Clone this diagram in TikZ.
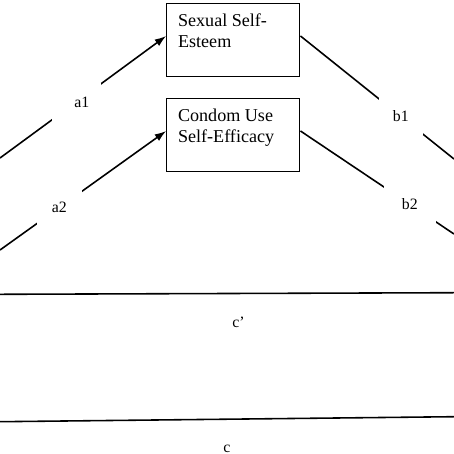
\documentclass[tikz,border=0pt]{standalone}
\usepackage{fontspec}
\setmainfont{Liberation Serif}
\usetikzlibrary{arrows.meta,positioning}

\begin{document}
\begin{tikzpicture}[x=0.02cm,y=-0.02cm,>={Latex[length=6.5pt,width=4.5pt]},
  every node/.style={inner sep=0pt},
  box/.style={draw,line width=0.6pt,minimum width=2.667cm,minimum height=1.45cm},
  boxtext/.style={align=left,font=\fontsize{10.3}{12.3}\selectfont},
  link/.style={line width=0.9pt},
  coef/.style={fill=white,minimum height=0.76cm,font=\fontsize{9}{10}\selectfont}]

\useasboundingbox (0,0) rectangle (454,454);

% mediators
\node[box] (SSE) at (233.3,40) {};
\node[box] (CUSE) at (233.3,135) {};
\node[boxtext,anchor=north west] (SSEtext) at ([xshift=0.232cm,yshift=-0.152cm]SSE.north west) {\strut Sexual Self-\\Esteem};
\node[boxtext,anchor=north west] (CUSEtext) at ([xshift=0.232cm,yshift=-0.152cm]CUSE.north west) {\strut Condom Use\\Self-Efficacy};

% free ends at the edges of the view
\coordinate (a1s) at (0,158);
\coordinate (a2s) at (0,250);
\coordinate (b1e) at (454,159);
\coordinate (b2e) at (454,234);
\coordinate (cpL) at (0,294.3);
\coordinate (cpR) at (454,292.7);
\coordinate (cL) at (0,421.7);
\coordinate (cR) at (454,416.7);

\draw[link,->] (a1s) -- node[coef,pos=0.459,minimum width=0.98cm] (a1) {\hspace{0.22cm}a1} ([yshift=0.08cm]SSE.west);
\draw[link,->] (a2s) -- node[coef,pos=0.357,minimum width=0.9cm] (a2) {a2} ([yshift=0.08cm]CUSE.west);
\draw[link] ([yshift=0.08cm]SSE.east) -- node[coef,pos=0.654,minimum width=0.88cm] (b1) {b1} (b1e);
\draw[link] ([yshift=0.08cm]CUSE.east) -- node[coef,pos=0.712,minimum width=1.04cm] (b2) {b2\hspace{0.32cm}} (b2e);

% direct paths
\draw[link] (cpL) -- (cpR);
\node[coef,fill=none,minimum height=0pt,anchor=base] (cp) at (238.5,327) {c'};
\draw[link] (cL) -- (cR);
\node[coef,fill=none,minimum height=0pt,anchor=base] (c) at (227,452) {c};
\end{tikzpicture}
\end{document}
